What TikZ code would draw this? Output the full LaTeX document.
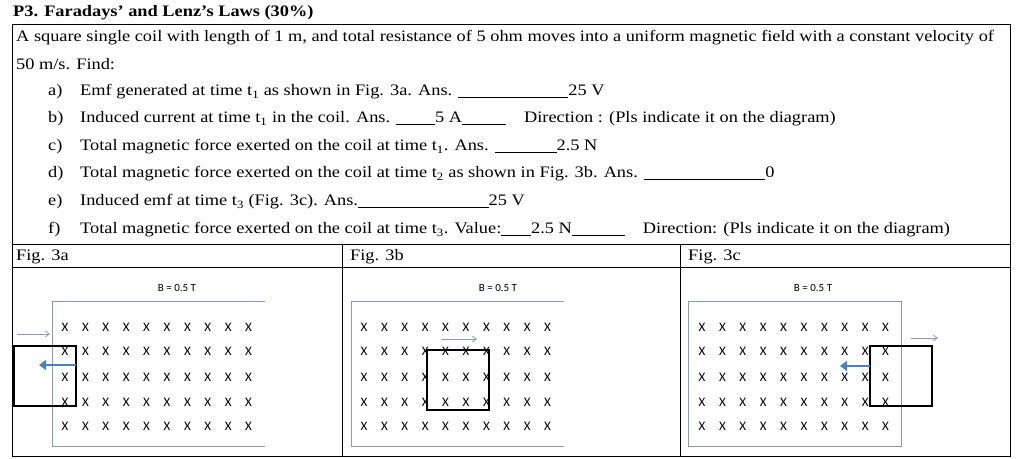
\documentclass[tikz,border=0pt]{standalone}
\usepackage{fontspec}
\setmainfont{Liberation Serif}
\newfontfamily\figfont{Carlito}
\usetikzlibrary{arrows.meta}
\definecolor{fld}{HTML}{8A9AB5}
\definecolor{arr}{HTML}{4F7FBF}
\newcommand{\ul}[1]{\rule[-1.5pt]{#1pt}{0.5pt}}
\newcommand{\sub}[1]{\textsubscript{#1}}
\newcommand{\sx}[1]{\scalebox{1.146}[1]{#1}}
\begin{document}
\begin{tikzpicture}[x=1pt,y=-1pt,
  txt/.style={anchor=west,inner sep=0pt,font=\fontsize{16}{18}\selectfont},
  xm/.style={inner sep=0pt,font=\figfont\fontsize{13}{14}\selectfont},
  field/.style={draw=fld,line width=0.8pt},
  coil/.style={draw=black,line width=1.1pt},
  thin/.style={draw=fld,line width=0.8pt,-{Straight Barb[length=4pt,width=6pt]}},
  thick/.style={draw=arr,line width=2.6pt,-{Triangle[length=7pt,width=10pt]}},
  lab/.style={inner sep=0pt,font=\figfont\fontsize{11}{12}\selectfont}]
\useasboundingbox (0,0) rectangle (1024,458);
\node[txt,font=\bfseries\fontsize{16}{18}\selectfont] (title) at (13,13) {\sx{P3. Faradays’ and Lenz’s Laws (30\%)}};
\draw[line width=0.8pt] (12,24) rectangle (1010,456);
\draw[line width=0.8pt] (12,244) -- (1010,244) (12,267) -- (1010,267);
\draw[line width=0.8pt] (342,244) -- (342,456) (680,244) -- (680,456);
\node[txt] (l0) at (16,38) {\sx{A square single coil with length of 1 m, and total resistance of 5 ohm moves into a uniform magnetic field with a constant velocity of}};
\node[txt] (l1) at (16,64) {\sx{50 m/s. Find:}};
\foreach \n/\y/\t in {a/92/{Emf generated at time t\sub{1} as shown in Fig. 3a. Ans. \ul{96}25 V},
 b/119/{Induced current at time t\sub{1} in the coil. Ans. \ul{34}5 A\ul{38}\quad Direction : (Pls indicate it on the diagram)},
 c/147/{Total magnetic force exerted on the coil at time t\sub{1}. Ans. \ul{54}2.5 N},
 d/174/{Total magnetic force exerted on the coil at time t\sub{2} as shown in Fig. 3b. Ans. \ul{106}0},
 e/202/{Induced emf at time t\sub{3} (Fig. 3c). Ans.\ul{114}25 V},
 f/230/{Total magnetic force exerted on the coil at time t\sub{3}. Value:\ul{26}2.5 N\ul{46}\quad Direction: (Pls indicate it on the diagram)}}{
  \node[txt] (q\n) at (48,\y) {\sx{\n)}};
  \node[txt] (t\n) at (80,\y) {\sx{\t}};
}
\node[txt] (f3a) at (16,257) {\sx{Fig. 3a}};
\node[txt] (f3b) at (350,257) {\sx{Fig. 3b}};
\node[txt] (f3c) at (688,257) {\sx{Fig. 3c}};
\node[lab] (ba) at (177,288) {B = 0.5 T};
\draw[field] (265,301) -- (52,301) -- (52,446) -- (265,446);
\foreach \y in {327,351,377,402,426} \foreach \i in {0,...,9} \node[xm] at (65+20.4*\i,\y) {X};
\draw[coil] (14,346) rectangle (76,406);
\coordinate (a1) at (17,334); \coordinate (a2) at (50,334);
\draw[thin] (a1) -- (a2);
\coordinate (a3) at (76,365); \coordinate (a4) at (39,365);
\draw[thick] (a3) -- (a4);
\node[lab] (bb) at (498,288) {B = 0.5 T};
\draw[field] (564,301) -- (351,301) -- (351,446) -- (564,446);
\foreach \y in {327,351,377,402,426} \foreach \i in {0,...,9} \node[xm] at (364+20.4*\i,\y) {X};
\draw[coil] (427,350) rectangle (489,410);
\coordinate (b1) at (441,339); \coordinate (b2) at (477,339);
\draw[thin] (b1) -- (b2);
\node[lab] (bc) at (813,288) {B = 0.5 T};
\draw[field] (688,301) rectangle (901,446);
\foreach \y in {327,351,377,402,426} \foreach \i in {0,...,9} \node[xm] at (702+20.4*\i,\y) {X};
\draw[coil] (870,346) rectangle (932,406);
\coordinate (c1) at (911,338); \coordinate (c2) at (938,338);
\draw[thin] (c1) -- (c2);
\coordinate (c3) at (870,366); \coordinate (c4) at (840,366);
\draw[thick] (c3) -- (c4);
\end{tikzpicture}
\end{document}
